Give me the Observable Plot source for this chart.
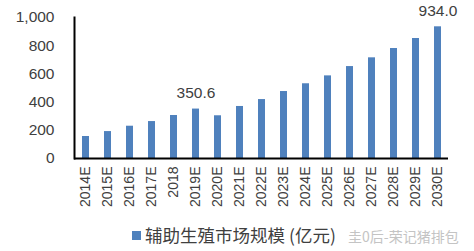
<!DOCTYPE html>
<html>
<head>
<meta charset="utf-8">
<script src="https://cdn.jsdelivr.net/npm/d3@7"></script>
<script src="https://cdn.jsdelivr.net/npm/@observablehq/plot@0.6"></script>
<style>
  html, body { margin: 0; padding: 0; background: #fff; }
  #wrap { position: relative; width: 474px; height: 251px; overflow: hidden; font-family: "Liberation Sans", Arial, sans-serif; }
  #legend { position: absolute; left: 0; top: 212px; width: 474px; height: 39px; }
  .sw { position: absolute; left: 132px; top: 19px; width: 9px; height: 9px; background: #4F81BD; }
  .lt { position: absolute; left: 145px; top: 12px; font-family: "Noto Sans CJK SC", sans-serif; font-size: 17.5px; line-height: 22px; color: #404040; white-space: nowrap; }
  .lt .u { margin-left: 4px; }
  .wm { position: absolute; left: 348px; top: 14px; font-family: "Noto Sans CJK SC", sans-serif; font-size: 14px; line-height: 20px; color: #c4c4c4; white-space: nowrap; }
</style>
</head>
<body>
<div id="wrap">
  <div id="chart"></div>
  <div id="legend"></div>
</div>
<script>
const years = ["2014E","2015E","2016E","2017E","2018","2019E","2020E","2021E","2022E","2023E","2024E","2025E","2026E","2027E","2028E","2029E","2030E"];
const values = [156, 191, 229, 262, 305, 350.6, 303, 369, 418, 475, 530, 586, 652, 714, 780, 851, 934.0];
const labeledYears = ["2019E", "2030E"];
const yTicks = [0, 200, 400, 600, 800, 1000];
const seriesName = "辅助生殖市场规模";
const unitText = "(亿元)";
const watermark = "圭0后-荣记猪排包";

const data = years.map((y, i) => ({year: y, value: values[i]}));
const labelData = data.filter(d => labeledYears.includes(d.year));

const chart = Plot.plot({
  width: 474,
  height: 212,
  marginTop: 17,
  marginBottom: 54,
  marginLeft: 74,
  marginRight: 26,
  style: {fontFamily: "'Liberation Sans', Arial, sans-serif", color: "#404040", background: "#fff"},
  x: {type: "band", domain: years, paddingInner: 0.7, paddingOuter: 0.35},
  y: {domain: [0, 1000]},
  marks: [
    Plot.barY(data, {x: "year", y: "value", fill: "#4F81BD"}),
    Plot.ruleY([0], {stroke: "#000", strokeWidth: 2}),
    Plot.frame({anchor: "left", stroke: "#000", strokeWidth: 2}),
    Plot.axisY({ticks: yTicks, tickFormat: d3.format(","), tickSize: 0, tickPadding: 20, fontSize: 15.5, label: null, fill: "#404040"}),
    Plot.axisX({tickRotate: -90, tickSize: 0, tickPadding: 8, fontSize: 14, label: null, fill: "#404040"}),
    Plot.text(labelData, {x: "year", y: "value", text: d => d3.format(".1f")(d.value), lineAnchor: "bottom", dy: -11, fontSize: 15.5, fill: "#404040"})
  ]
});
document.getElementById("chart").appendChild(chart);

const legend = document.getElementById("legend");
legend.innerHTML = `<div class="sw"></div><div class="lt">${seriesName}<span class="u">${unitText}</span></div><div class="wm">${watermark}</div>`;
</script>
</body>
</html>
